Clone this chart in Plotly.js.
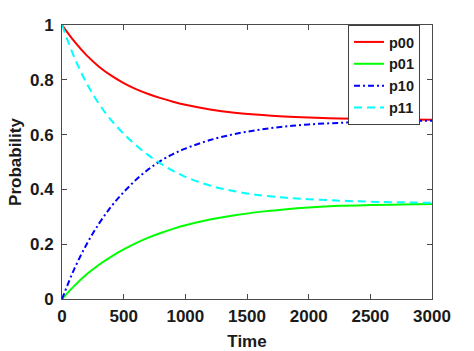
<!DOCTYPE html>
<html>
<head>
<meta charset="utf-8">
<script src="https://cdn.plot.ly/plotly-3.0.1.min.js"></script>
<style>html,body{margin:0;padding:0;background:#fff;}#chart{width:474px;height:351px;}</style>
</head>
<body>
<div id="chart"></div>
<script>
const time = [0,100,200,300,400,500,600,700,800,900,1000,1200,1400,1600,1800,2000,2250,2500,2750,3000];
const p00 = [1.00,0.940,0.889,0.848,0.815,0.788,0.766,0.748,0.733,0.720,0.709,0.692,0.680,0.672,0.666,0.662,0.659,0.657,0.655,0.654];
const p01 = [0.00,0.048,0.090,0.125,0.155,0.181,0.204,0.224,0.241,0.256,0.269,0.290,0.306,0.318,0.327,0.334,0.340,0.343,0.345,0.347];
const p10 = [0.00,0.110,0.200,0.275,0.338,0.390,0.435,0.473,0.504,0.529,0.549,0.580,0.602,0.618,0.629,0.637,0.643,0.647,0.649,0.651];
const p11 = [1.00,0.882,0.787,0.712,0.652,0.603,0.561,0.525,0.494,0.468,0.446,0.414,0.393,0.379,0.370,0.364,0.359,0.355,0.353,0.351];
const names = ['p00','p01','p10','p11'];
const colors = ['#ff0000','#00ff00','#0000ff','#00ffff'];
const dashes = ['solid','solid','6px,3px,2px,3px','8px,5px'];
const series = [p00,p01,p10,p11];

const traces = series.map((ys,i)=>({
  x: time, y: ys, name: names[i], type:'scatter', mode:'lines',
  line:{color:colors[i], width:2, dash:dashes[i], shape:'spline', smoothing:1}
}));

const fnt = {family:'"Liberation Sans", Arial, sans-serif', size:17, color:'#1a1a1a', weight:'bold'};
const axisCommon = {
  showline:true, linecolor:'#4a4a4a', linewidth:1, mirror:'ticks',
  ticks:'inside', ticklen:5, tickcolor:'#4a4a4a', tickwidth:1,
  showgrid:false, zeroline:false, tickfont:fnt
};
const layout = {
  width:474, height:351,
  margin:{l:62, r:42, t:25, b:52},
  paper_bgcolor:'#fff', plot_bgcolor:'#fff',
  font:fnt,
  xaxis: Object.assign({}, axisCommon, {
    range:[0,3000], tickvals:[0,500,1000,1500,2000,2500,3000],
    ticktext:['0','500','1000','1500','2000','2500','3000'],
    ticklabelstandoff:2,
    title:{text:'Time', font:fnt, standoff:12}
  }),
  yaxis: Object.assign({}, axisCommon, {
    range:[0,1], tickvals:[0,0.2,0.4,0.6,0.8,1],
    ticktext:['0','0.2','0.4','0.6','0.8','1'],
    ticklabelstandoff:4,
    title:{text:'Probability', font:fnt, standoff:4}
  }),
  showlegend:true,
  legend:{x:0.9676, xanchor:'right', y:1, yanchor:'top',
    bgcolor:'#fff', bordercolor:'#404040', borderwidth:1,
    font:Object.assign({}, fnt, {size:14.5}), tracegroupgap:0}
};
Plotly.newPlot('chart', traces, layout, {displayModeBar:false, staticPlot:true});
</script>
</body>
</html>
